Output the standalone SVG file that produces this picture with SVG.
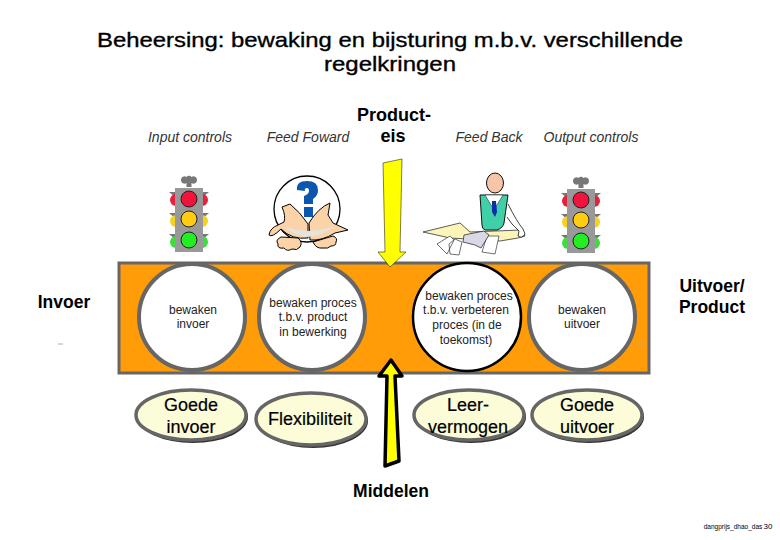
<svg xmlns="http://www.w3.org/2000/svg" xmlns:xlink="http://www.w3.org/1999/xlink" width="780" height="540" viewBox="0 0 780 540">
<style>
text{font-family:"Liberation Sans",Arial,sans-serif;fill:#000;text-anchor:middle}
.t{font-size:21px;stroke:#000;stroke-width:.35}.h{font-size:18px;font-weight:bold}.b{font-size:17.5px;font-weight:bold}.i{font-size:14px;font-style:italic;fill:#333}.c{font-size:12px;fill:#222}.e{font-size:18px;stroke:#000;stroke-width:.2}
.ring{fill:#fff;stroke:#666;stroke-width:4}
.oval{fill:#fcfcd8;stroke:#666;stroke-width:3.5}
.shadow{fill:#333}
.arrow{fill:#ff0;stroke:#000;stroke-linejoin:round}
.skin{fill:#fcd3a8;stroke:#000;stroke-width:1}
.paper{fill:#fff;stroke:#333;stroke-width:.7}
</style>
<defs>
<g id="light">
<path d="M-2.5 -30a3 3 0 0 1 5 0a3.5 3.5 0 0 1 5.500 3a3.500 3.500 0 0 1 -5.500 3v4h-5v-4a3.500 3.500 0 0 1 -5.500 -3a3.500 3.500 0 0 1 5.500 -3z" fill="#777"/>
<path d="M-20 -15h40l-6 5h-28zM-20 6h40l-6 5h-28zM-20 27h40l-6 5h-28z" fill="#777"/>
<circle cx="-13" cy="-7" r="6" fill="#e8203c"/><circle cx="13" cy="-7" r="6" fill="#e8203c"/>
<circle cx="-13" cy="14" r="6" fill="#f6d21e"/><circle cx="13" cy="14" r="6" fill="#f6d21e"/>
<circle cx="-13" cy="35" r="6" fill="#3fdc3f"/><circle cx="13" cy="35" r="6" fill="#3fdc3f"/>
<rect x="-14" y="-19" width="28" height="64" fill="#999"/>
<circle cx="0" cy="-8" r="8" fill="#f0143c" stroke="#222"/>
<circle cx="0" cy="12" r="8" fill="#ffcc11" stroke="#222"/>
<circle cx="0" cy="33" r="8" fill="#22ee22" stroke="#222"/>
</g>
</defs>
<rect width="780" height="540" fill="#fff"/>
<g id="title"><text class="t" x="390" y="47" textLength="586" lengthAdjust="spacingAndGlyphs">Beheersing: bewaking en bijsturing m.b.v. verschillende</text><text class="t" x="390" y="71" textLength="132" lengthAdjust="spacingAndGlyphs">regelkringen</text></g>
<g id="bar"><rect x="119" y="263" width="530" height="110" fill="#ff9c08" stroke="#666" stroke-width="3"/>
<path d="M58 344h5M638 344h5" stroke="#aaa"/></g>
<g id="connectors">
<path class="arrow" d="M383 163L402 159L400 252L406 252L390 267L378 252L385 252z" stroke="#886" stroke-width=".5"/>
<path class="arrow" stroke-width="3.500" d="M385 466L399 461L395 376L402 376L391 360L379 376L387 376z"/>
</g>
<g id="labels">
<text class="i" x="190" y="142">Input controls</text>
<text class="i" x="308" y="142">Feed Foward</text>
<text class="i" x="489" y="142">Feed Back</text>
<text class="i" x="591" y="142">Output controls</text>
<text class="h" x="394" y="121">Product-</text><text class="h" x="393" y="142">eis</text>
<text class="b" x="64" y="308">Invoer</text>
<text class="b" x="712" y="292">Uitvoer/</text><text class="b" x="712" y="313">Product</text>
<text class="b" x="391" y="497">Middelen</text>
<text x="733" y="529" font-size="6.500" fill="#333">dangprijs_dhao_das</text><text x="768" y="529" font-size="8">30</text>
</g>
<g id="light-in"><use href="#light" xlink:href="#light" x="189" y="207"/></g>
<g id="light-out"><use href="#light" xlink:href="#light" x="581" y="208"/></g>
<g id="hands">
<circle cx="307" cy="209" r="33" fill="#fff" stroke="#000" stroke-width="1.3"/>
<path d="M297 190q-1 -9 10 -9q11 0 11 9q0 6 -5 9v5h-9v-8q5 -2 5 -5q0 -3 -2 -3q-3 0 -2 3zM304 207h9v10h-9z" fill="#0b56ae"/>
<path class="skin" d="M282 207L290 204Q300 212 308 224L308 238Q292 240 281 229Q272 238 269 235Q270 228 278 225L284 222Q286 216 282 207z"/>
<path class="skin" d="M330 203L328 215L333 223L348 230L335 233Q322 241 310 240L309 223Q318 208 330 203z"/>
<path class="skin" d="M281 237q-6 3 -3 7q-1 5 6 4q3 4 8 1q5 2 8 -2q3 -5 -2 -9zM313 242q3 7 10 6q5 1 8 -2q5 0 5 -4q2 -4 -3 -6z"/>
<path d="M283 226q12 10 24 11q16 -1 27 -11q-9 4 -26 5q-16 -1 -25 -5z" fill="#e4e4dc"/>
</g>
<g id="worker">
<path d="M423 232L460 223L470 232L521 230L525 236L518 238L500 241L450 238z" fill="#fdf5b8" stroke="#333" stroke-width=".8"/>
<path class="paper" d="M437 244l13 -8l4 4l-7 14zM449 244l6 -5l7 3l-3 13l-9 -1zM487 236h12l-4 18l-13 -2z"/>
<path d="M464 235l20 -4l5 4l-8 13l-6 -3l-12 -3z" fill="#d8d8e6" stroke="#333" stroke-width=".8"/>
<path d="M480 195h28l-4 28q-1 5 -7 7h-12q-3 -1 -3 -5z" fill="#40d0a8" stroke="#111"/>
<path d="M485 195h18l-9 15z" fill="#fff" stroke="#111" stroke-width=".5"/>
<path d="M492 201h4l1 11l-2 5l-3 -5z" fill="#0b2ea8"/>
<path d="M508 204q9 18 15 25l2 5q-3 5 -7 2l1 -5q-8 -7 -12 -14" fill="#fff" stroke="#111" stroke-width=".8"/>
<ellipse cx="495" cy="183" rx="8.500" ry="10" fill="#f7c6a8" stroke="#111"/>
</g>
<g id="n1"><circle class="ring" cx="192" cy="317" r="53"/><text class="c" x="193" y="314">bewaken</text><text class="c" x="193" y="328">invoer</text></g>
<g id="n2"><circle class="ring" cx="312" cy="317" r="53"/><text class="c" x="313" y="307">bewaken proces</text><text class="c" x="313" y="321">t.b.v. product</text><text class="c" x="313" y="336">in bewerking</text></g>
<g id="n3"><circle cx="467" cy="317" r="54" fill="#fff" stroke="#000" stroke-width="2.500"/><text class="c" x="469" y="300">bewaken proces</text><text class="c" x="466" y="314">t.b.v. verbeteren</text><text class="c" x="467" y="329">proces (in de</text><text class="c" x="466" y="344">toekomst)</text></g>
<g id="n4"><circle class="ring" cx="582" cy="317" r="53"/><text class="c" x="582" y="314">bewaken</text><text class="c" x="582" y="328">uitvoer</text></g>
<g id="o1"><ellipse class="shadow" cx="193" cy="417" rx="55" ry="26"/><ellipse class="oval" cx="191" cy="415" rx="55" ry="25"/><text class="e" x="191" y="411">Goede</text><text class="e" x="191" y="433">invoer</text></g>
<g id="o2"><ellipse class="shadow" cx="313" cy="421" rx="55" ry="27"/><ellipse class="oval" cx="311" cy="419" rx="55" ry="26"/><text class="e" x="310" y="425">Flexibiliteit</text></g>
<g id="o3"><ellipse class="shadow" cx="471" cy="417" rx="55" ry="26"/><ellipse class="oval" cx="469" cy="415" rx="55" ry="25"/><text class="e" x="468" y="411">Leer-</text><text class="e" x="468" y="433">vermogen</text></g>
<g id="o4"><ellipse class="shadow" cx="589" cy="417" rx="55" ry="26"/><ellipse class="oval" cx="587" cy="415" rx="55" ry="25"/><text class="e" x="587" y="411">Goede</text><text class="e" x="587" y="433">uitvoer</text></g>
</svg>
